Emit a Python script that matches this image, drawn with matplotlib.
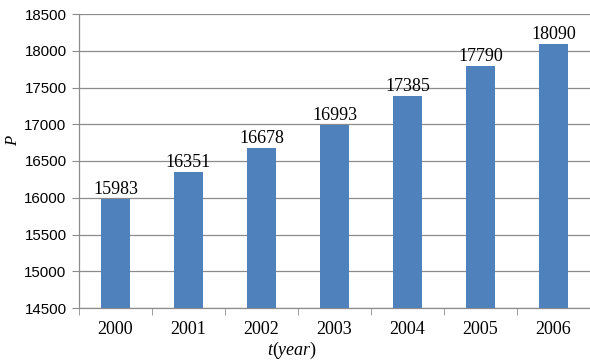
import matplotlib
matplotlib.use('Agg')
import matplotlib.pyplot as plt

years = ['2000', '2001', '2002', '2003', '2004', '2005', '2006']
population = [15983, 16351, 16678, 16993, 17385, 17790, 18090]
yticks = [14500, 15000, 15500, 16000, 16500, 17000, 17500, 18000, 18500]

plt.rcParams['mathtext.fontset'] = 'custom'
plt.rcParams['mathtext.rm'] = 'Liberation Serif'
plt.rcParams['mathtext.it'] = 'Liberation Serif:italic'

fig = plt.figure(figsize=(5.9, 3.62), dpi=100)
ax = fig.add_axes([79 / 590, 1 - 308 / 362, 511 / 590, 294 / 362])

x = list(range(len(years)))
ax.bar(x, population, width=0.39, color='#4F81BD', zorder=3)
for i in x:
	ax.text(i, population[i] + 15, str(population[i]), ha='center', va='bottom',
		fontfamily='Liberation Serif', fontsize=13, zorder=4)

ax.set_ylim(14500, 18500)
ax.set_xlim(-0.5, len(years) - 0.5)
ax.set_yticks(yticks)
ax.set_yticklabels([str(v) for v in yticks], fontfamily='Liberation Sans', fontsize=10.8)
ax.yaxis.grid(True, color='#8c8c8c', linewidth=0.9, zorder=0)
ax.tick_params(axis='y', length=5, color='#8c8c8c', pad=4)

ax.set_xticks(x)
ax.set_xticklabels(years, fontfamily='Liberation Serif', fontsize=13)
ax.set_xticks([i - 0.5 for i in range(len(years) + 1)], minor=True)
ax.tick_params(axis='x', which='major', length=0, pad=9)
ax.tick_params(axis='x', which='minor', length=5, color='#8c8c8c')

for s in ['top', 'right']:
	ax.spines[s].set_visible(False)
for s in ['left', 'bottom']:
	ax.spines[s].set_color('#8c8c8c')
	ax.spines[s].set_linewidth(0.9)

fig.text(12 / 590, 1 - 140 / 362, r'$P$', rotation=90,
	fontsize=12, ha='center', va='center')
fig.text(292 / 590, 1 - 350 / 362, r'$t(year)$',
	fontsize=13, ha='center', va='center')

fig.savefig('out.png', dpi=100)
